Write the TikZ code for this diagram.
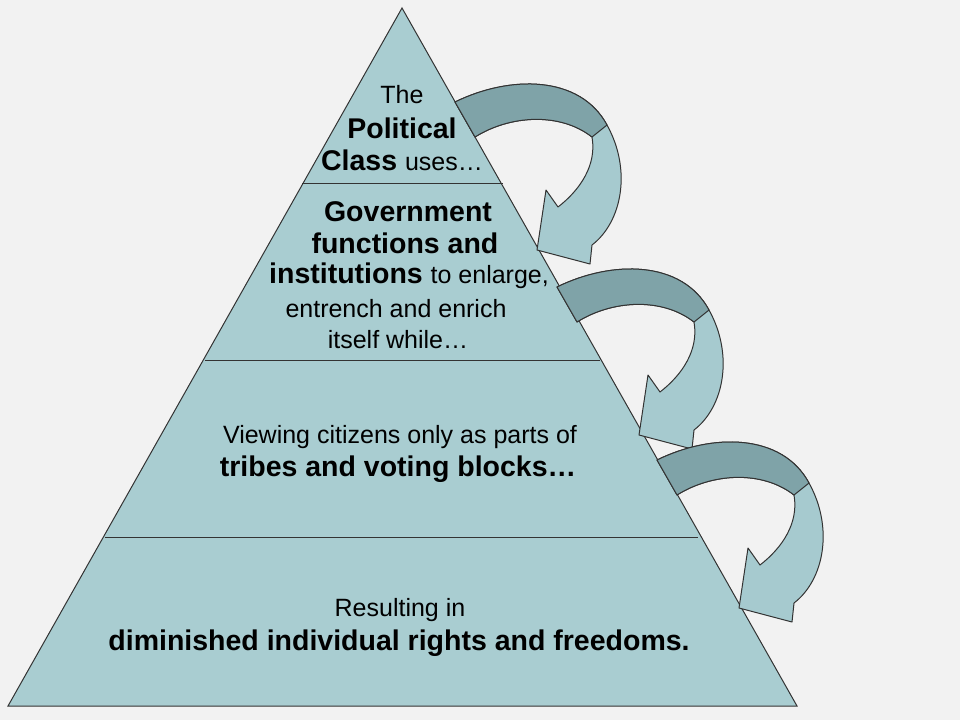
\documentclass[tikz,border=0pt]{standalone}
\usepackage{fontspec}
\setmainfont{Liberation Sans}
\begin{document}
\begin{tikzpicture}[x=1pt,y=-1pt,
  layer/.style={fill=teal0,draw=black!80,line width=1pt},
  txt/.style={align=center,font=\fontsize{25}{32}\selectfont,inner sep=0pt},
  big/.style={align=center,font=\fontsize{28.5}{33}\selectfont\bfseries,inner sep=0pt},
  arr/.style={fill=teal1,draw=black!80,line width=1pt,line join=round},
  arrback/.style={fill=teal2,draw=black!80,line width=1pt,line join=round}]
\definecolor{teal0}{HTML}{A9CDD1}
\definecolor{teal1}{HTML}{A6CACF}
\definecolor{teal2}{HTML}{7FA3A8}
\fill[gray!10] (0,0) rectangle (960,720);
\useasboundingbox (0,0) rectangle (960,720);
\coordinate (A) at (402,8);
\coordinate (L) at (8,706);
\coordinate (R) at (797,706);
\draw[layer] (A) -- (R) -- (L) -- cycle;
\draw[black!80,line width=1pt] (302,183) -- (503,183) (205,360) -- (600,360) (105,537) -- (698,537);
\foreach \dx/\dy in {0/0,102/185,202/358}{
\begin{scope}[shift={(\dx,\dy)}]
\draw[arr] (455,102) .. controls (510,75) and (580,75) .. (607,125) .. controls (632,170) and (622,222) .. (592,245) -- (590,264) -- (537,250) -- (546,190) -- (558,207) .. controls (580,190) and (597,165) .. (592,137) .. controls (560,112) and (510,115) .. (475,137) -- cycle;
\draw[arrback] (455,102) .. controls (510,75) and (580,75) .. (607,125) -- (592,137) .. controls (560,112) and (510,115) .. (475,137) -- cycle;
\end{scope}}
\node[txt] (t1) at (402,95) {The};
\node[big] (t2) at (402,128) {Political};
\node[inner sep=0pt] (t3) at (402,160) {\fontsize{28.5}{33}\selectfont\bfseries Class \fontsize{25}{32}\selectfont\mdseries uses\ldots};
\node[big] (t4) at (408,212) {Government};
\node[big] (t5) at (405,243) {functions and};
\node[inner sep=0pt] (t6) at (409,276) {\fontsize{28.5}{33}\selectfont\bfseries institutions \fontsize{25}{32}\selectfont\mdseries to enlarge,};
\node[txt] (t7) at (396,309) {entrench and enrich};
\node[txt] (t8) at (398,340) {itself while\ldots};
\node[txt] (t9) at (400,437) {Viewing citizens only as parts of};
\node[big] (t10) at (398,469) {tribes and voting blocks\ldots};
\node[txt] (t11) at (400,610) {Resulting in};
\node[big] (t12) at (399,643) {diminished individual rights and freedoms.};
\end{tikzpicture}
\end{document}
